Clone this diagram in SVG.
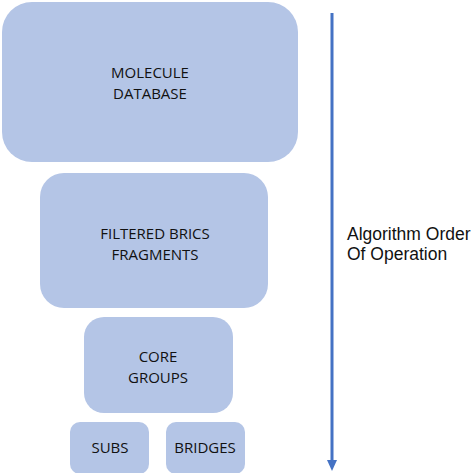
<svg xmlns="http://www.w3.org/2000/svg" width="474" height="473" viewBox="0 0 474 473">
<style>
.box{fill:#b4c5e6;}
.t{font-family:"Open Sans","Liberation Sans",sans-serif;font-size:15px;fill:#111;text-anchor:middle;dominant-baseline:central;}
.l{font-family:"Liberation Sans",Arial,sans-serif;font-size:17.5px;fill:#111;}
.arrow{stroke:#4472c4;stroke-width:3;fill:none;}
.head{fill:#4472c4;}
</style>
<rect width="474" height="473" fill="#fff"/>
<g id="molecule-database">
<rect class="box" x="2" y="2" width="296" height="160" rx="30"/>
<text class="t" x="150" y="72">MOLECULE</text>
<text class="t" x="150" y="93">DATABASE</text>
</g>
<g id="filtered-brics">
<rect class="box" x="40" y="173" width="228" height="135" rx="24"/>
<text class="t" x="155" y="233">FILTERED BRICS</text>
<text class="t" x="155" y="254">FRAGMENTS</text>
</g>
<g id="core-groups">
<rect class="box" x="84" y="317" width="149" height="96" rx="20"/>
<text class="t" x="158" y="356">CORE</text>
<text class="t" x="158" y="377">GROUPS</text>
</g>
<g id="subs">
<rect class="box" x="70" y="422" width="79" height="52" rx="10"/>
<text class="t" x="110" y="447">SUBS</text>
</g>
<g id="bridges">
<rect class="box" x="166" y="422" width="79" height="52" rx="10"/>
<text class="t" x="205" y="447">BRIDGES</text>
</g>
<g id="connectors">
<line class="arrow" x1="332" y1="13" x2="332" y2="462"/>
<polygon class="head" points="327,460 337,460 332,471"/>
</g>
<g id="label">
<text class="l" x="347" y="240">Algorithm Order</text>
<text class="l" x="347" y="260">Of Operation</text>
</g>
</svg>
